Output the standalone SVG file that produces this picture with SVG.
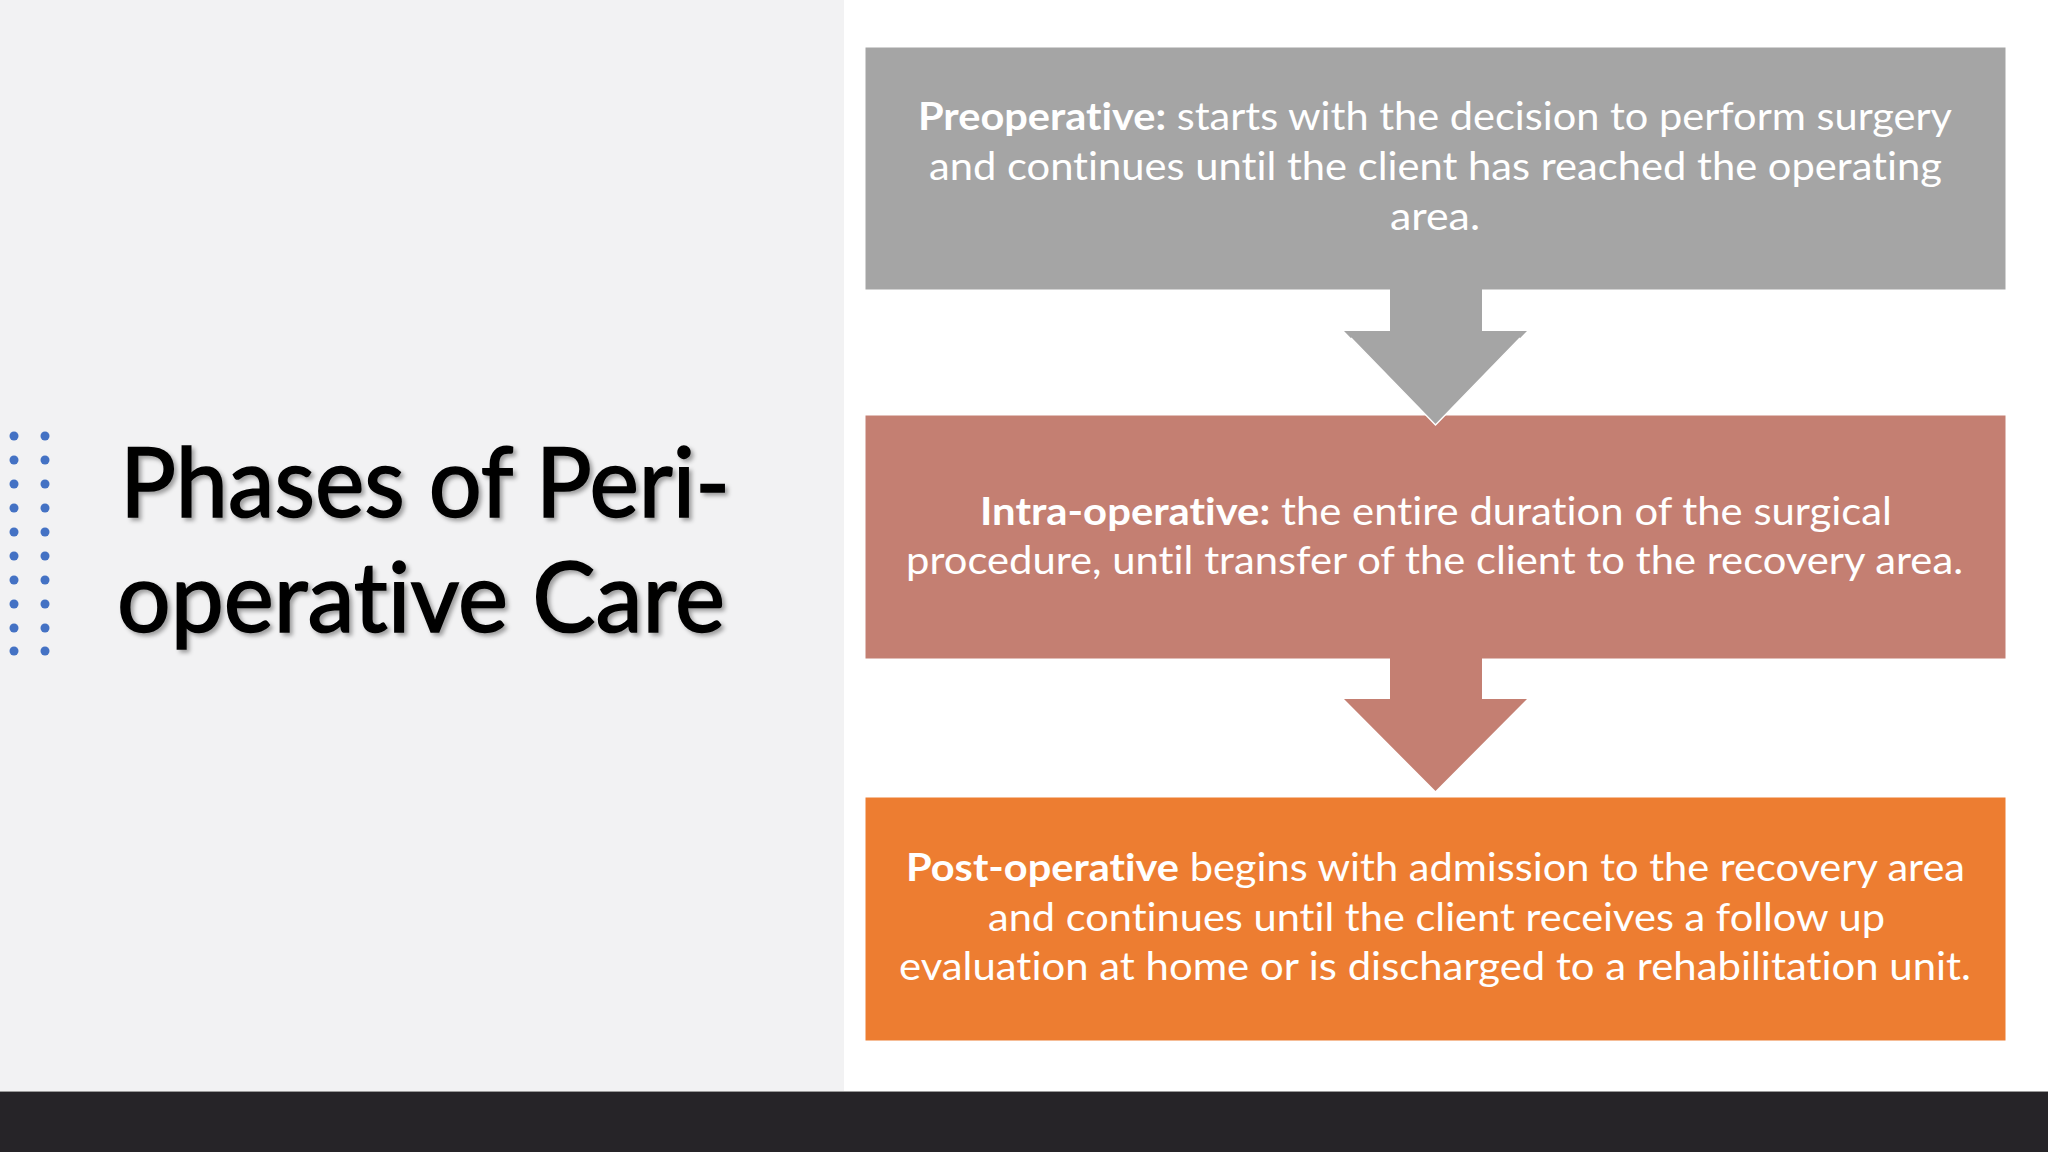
<svg xmlns="http://www.w3.org/2000/svg" width="2048" height="1152" viewBox="0 0 2048 1152">
  <defs>
    <filter id="shadow" x="-10%" y="-20%" width="120%" height="140%">
      <feDropShadow dx="3" dy="3" stdDeviation="2" flood-color="#000" flood-opacity="0.35"/>
    </filter>
  </defs>
  <style>
    text { font-variant-ligatures: none; }
    .title { font-family: Lato, "Liberation Sans", sans-serif; font-size: 96px; fill: #000; stroke: #000; stroke-width: 1.6px; }
    .body { font-family: Lato, "Liberation Sans", sans-serif; font-size: 38px; fill: #fff; }
    .b { font-weight: bold; }
    .dot { fill: #4472c4; }
    .box { stroke: #fff; stroke-width: 1; }
    .edge { fill: none; stroke: #fff; stroke-width: 1.5; stroke-linejoin: miter; }
  </style>

  <rect x="0" y="0" width="2048" height="1152" fill="#ffffff"/>
  <rect id="left-panel" x="0" y="0" width="844" height="1091" fill="#f2f2f3"/>
  <rect id="bottom-bar" x="0" y="1091" width="2048" height="61" fill="#262428"/>
  <line x1="0" y1="1091.5" x2="2048" y2="1091.5" stroke="#9a9a9a" stroke-width="1"/>

  <g id="dots">
    <circle class="dot" cx="14" cy="436" r="4.5"/><circle class="dot" cx="45" cy="436" r="4.5"/>
    <circle class="dot" cx="14" cy="460" r="4.5"/><circle class="dot" cx="45" cy="460" r="4.5"/>
    <circle class="dot" cx="14" cy="484" r="4.5"/><circle class="dot" cx="45" cy="484" r="4.5"/>
    <circle class="dot" cx="14" cy="508" r="4.5"/><circle class="dot" cx="45" cy="508" r="4.5"/>
    <circle class="dot" cx="14" cy="532" r="4.5"/><circle class="dot" cx="45" cy="532" r="4.5"/>
    <circle class="dot" cx="14" cy="556" r="4.5"/><circle class="dot" cx="45" cy="556" r="4.5"/>
    <circle class="dot" cx="14" cy="580" r="4.5"/><circle class="dot" cx="45" cy="580" r="4.5"/>
    <circle class="dot" cx="14" cy="604" r="4.5"/><circle class="dot" cx="45" cy="604" r="4.5"/>
    <circle class="dot" cx="14" cy="628" r="4.5"/><circle class="dot" cx="45" cy="628" r="4.5"/>
    <circle class="dot" cx="14" cy="651" r="4.5"/><circle class="dot" cx="45" cy="651" r="4.5"/>
  </g>

  <g id="title" filter="url(#shadow)">
    <text class="title" x="120" y="517" textLength="610" lengthAdjust="spacingAndGlyphs">Phases of Peri-</text>
    <text class="title" x="117" y="632" textLength="608" lengthAdjust="spacingAndGlyphs">operative Care</text>
  </g>

  <g id="node-preoperative">
    <rect class="box" x="865" y="47" width="1141" height="243" fill="#a5a5a5"/>
    <text class="body" x="918" y="130" textLength="1034" lengthAdjust="spacingAndGlyphs"><tspan class="b">Preoperative:</tspan> starts with the decision to perform surgery</text>
    <text class="body" x="929" y="180" textLength="1013" lengthAdjust="spacingAndGlyphs">and continues until the client has reached the operating</text>
    <text class="body" x="1390" y="230" textLength="90" lengthAdjust="spacingAndGlyphs">area.</text>
  </g>

  <g id="node-intraoperative">
    <rect class="box" x="865" y="415" width="1141" height="244" fill="#c47f72"/>
    <text class="body" x="980" y="525" textLength="912" lengthAdjust="spacingAndGlyphs"><tspan class="b">Intra-operative:</tspan> the entire duration of the surgical</text>
    <text class="body" x="906" y="574" textLength="1057" lengthAdjust="spacingAndGlyphs">procedure, until transfer of the client to the recovery area.</text>
  </g>

  <g id="node-postoperative">
    <rect class="box" x="865" y="797" width="1141" height="244" fill="#ed7d31"/>
    <text class="body" x="906" y="881" textLength="1059" lengthAdjust="spacingAndGlyphs"><tspan class="b">Post-operative</tspan> begins with admission to the recovery area</text>
    <text class="body" x="988" y="931" textLength="897" lengthAdjust="spacingAndGlyphs">and continues until the client receives a follow up</text>
    <text class="body" x="899" y="980" textLength="1072" lengthAdjust="spacingAndGlyphs">evaluation at home or is discharged to a rehabilitation unit.</text>
  </g>

  <g id="connectors">
    <polygon fill="#a5a5a5" points="1390,289 1482,289 1482,331 1527,331 1435.5,425 1344,331 1390,331"/>
    <polyline class="edge" points="1520,338 1435.5,425 1351,338"/>
    <polygon fill="#c47f72" points="1390,658 1482,658 1482,699 1527,699 1435.5,791 1344,699 1390,699"/>
  </g>
</svg>
